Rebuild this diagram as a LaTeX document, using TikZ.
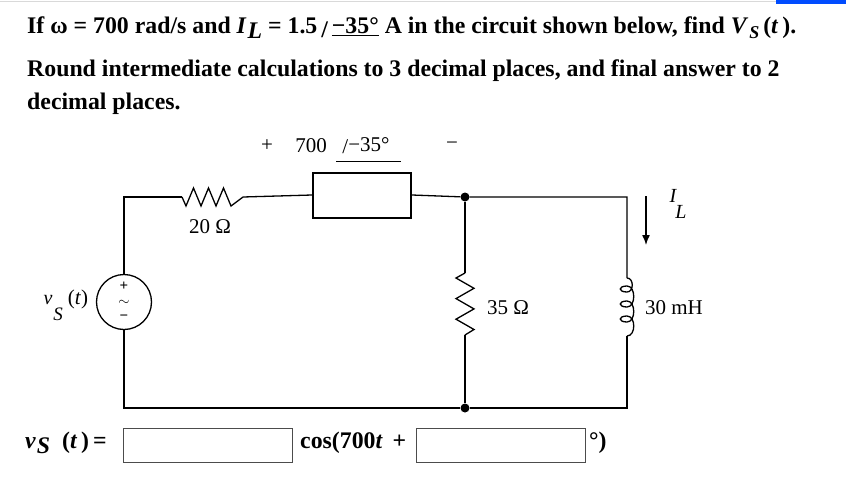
\documentclass[tikz,border=0pt]{standalone}
\usepackage{fontspec}
\setmainfont{Liberation Serif}
\usetikzlibrary{arrows.meta}
\begin{document}
\begin{tikzpicture}[x=1pt,y=-1pt,
  wire/.style={line width=1.3pt},
  q/.style={font=\bfseries\fontsize{23.8}{26}\selectfont, anchor=west, inner sep=0},
  lab/.style={font=\fontsize{21}{23}\selectfont, inner sep=0},
  dotn/.style={circle,fill,inner sep=0,minimum size=9pt},
  ansbox/.style={draw=black!70,line width=1pt}]
\useasboundingbox (0,0) rectangle (846,501);
\fill[white] (0,0) rectangle (846,501);
\fill[blue!70!cyan] (776,0) rectangle (846,4);
\draw[black!15] (0,1) -- (776,1);
% question text
\node[q] (t1) at (27,28) {If ω = 700 rad/s and \textit{I}\raisebox{-0.4ex}{\kern1pt\textit{L}} = 1.5\,\raisebox{-0.3ex}{/}\,\underline{−35°} A in the circuit shown below, find \textit{V}\raisebox{-0.4ex}{\kern1pt\fontsize{18}{18}\selectfont\textit{S}}\,(\textit{t}\,).};
\node[q] (t2) at (27,71) {Round intermediate calculations to 3 decimal places, and final answer to 2};
\node[q] (t3) at (27,104) {decimal places.};
% circuit coordinates
\coordinate (tl) at (124,197);
\coordinate (bl) at (124,408);
\coordinate (r1a) at (182,197);
\coordinate (r1b) at (243,197);
\node[draw,line width=2pt,minimum width=98pt,minimum height=45pt,inner sep=0] (Z) at (362,195) {};
\node[dotn] (nt) at (465,197) {};
\node[dotn] (nb) at (465,408) {};
\coordinate (tr) at (627,197);
\coordinate (br) at (627,408);
\node[draw,circle,line width=1.3pt,minimum size=55pt,inner sep=0] (src) at (124,302) {};
\node[lab,font=\bfseries\fontsize{15}{15}\selectfont] (sp) at (124,286) {+};
\node[lab,font=\fontsize{15}{15}\selectfont] (sw) at (124,303) {$\sim$};
\node[lab,font=\bfseries\fontsize{15}{15}\selectfont] (sm) at (124,318) {−};
\coordinate (r2a) at (465,273);
\coordinate (r2b) at (465,335);
\coordinate (la) at (627,278);
\coordinate (lb) at (627,336);
% wires
\draw[wire] (src.north) -- (tl) -- (r1a);
\draw[wire] (r1a) -- ++(4,9) -- ++(7.5,-18) -- ++(7.5,18) -- ++(7.5,-18) -- ++(7.5,18) -- ++(7.5,-18) -- ++(7.5,18) -- (r1b);
\draw[wire] (r1b) -- (Z.west);
\draw[wire] (Z.east) -- (nt) -- (tr) -- (la);
\draw[wire] (nt) -- (r2a);
\draw[wire] (r2a) -- ++(-9,5) -- ++(18,10.3) -- ++(-18,10.3) -- ++(18,10.3) -- ++(-18,10.3) -- ++(18,10.3) -- (r2b);
\draw[wire] (r2b) -- (nb);
\draw[wire] (la) .. controls (634,278) and (634,292) .. (627,292)
  .. controls (618,292) and (618,286) .. (627,286)
  .. controls (636,286) and (636,307) .. (627,307)
  .. controls (618,307) and (618,301) .. (627,301)
  .. controls (636,301) and (636,322) .. (627,322)
  .. controls (618,322) and (618,316) .. (627,316)
  .. controls (636,316) and (636,336) .. (lb);
\draw[wire] (lb) -- (br) -- (nb) -- (bl) -- (src.south);
% I_L arrow
\coordinate (ia) at (646,196);
\coordinate (ib) at (646,245);
\draw[line width=1.4pt,-{Latex[length=10pt,width=8pt]}] (ia) -- (ib);
\node[lab,font=\itshape\fontsize{20}{20}\selectfont] (il) at (673,196) {I};
\node[lab,font=\itshape\fontsize{20}{20}\selectfont] (ils) at (681,212) {L};
% labels
\node[lab] (pl) at (267,146) {+};
\node[lab] (zv) at (311,146) {700};
\node[lab] (za) at (366,146) {\raisebox{-0.2ex}{/}−35°};
\draw[line width=0.6pt] (336,161) -- (401,161);
\node[lab] (mn) at (452,146) {−};
\node[lab] (r1l) at (210,227) {20 Ω};
\node[lab] (r2l) at (508,308) {35 Ω};
\node[lab] (ll) at (674,308) {30 mH};
\node[lab,font=\itshape\fontsize{20}{20}\selectfont] (vl) at (48,300) {v};
\node[lab,font=\itshape\fontsize{19}{19}\selectfont] (vls) at (58,314) {S};
\node[lab] (vlt) at (78,299) {(\textit{t})};
% answer line
\node[q] (a1) at (25,443) {\textit{v}\raisebox{-0.5ex}{\kern1pt\textit{S}}\ \ (\textit{t}\,)\,=};
\node[ansbox,minimum width=169pt,minimum height=34pt,inner sep=0] (b1) at (207.5,445) {};
\node[q] (a2) at (300,443) {cos(700\textit{t} \,+};
\node[ansbox,minimum width=169pt,minimum height=34pt,inner sep=0] (b2) at (501,445) {};
\node[q] (a3) at (589,443) {°)};
\end{tikzpicture}
\end{document}
